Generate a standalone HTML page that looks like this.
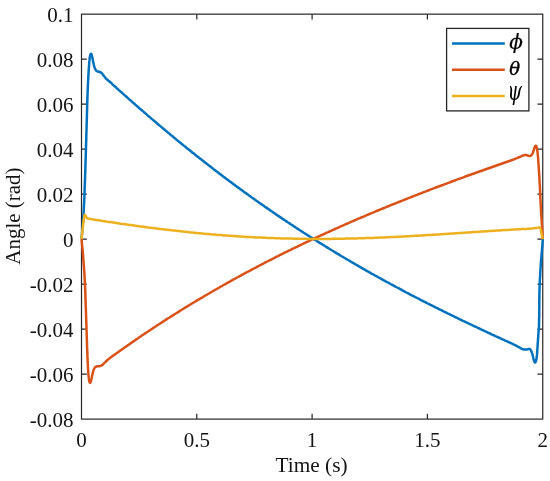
<!DOCTYPE html>
<html><head><meta charset="utf-8"><title>Angle vs Time</title>
<style>
html,body{margin:0;padding:0;background:#fff;}
svg{display:block;}
text{font-family:"Liberation Serif","DejaVu Serif",serif;font-size:21px;fill:#141414;}
.g{font-family:"DejaVu Serif","Liberation Serif",serif;font-style:italic;font-size:20px;fill:#000;}
</style></head><body>
<svg width="550" height="481" viewBox="0 0 550 481">
<rect width="550" height="481" fill="#fff"/>

<g stroke="#262626" stroke-width="1.2" fill="none">
<rect x="81.5" y="14.15" width="461.25" height="404.95000000000005"/>
<path d="M196.8,419.1 v-5.3 M196.8,14.15 v5.3"/>
<path d="M312.1,419.1 v-5.3 M312.1,14.15 v5.3"/>
<path d="M427.4,419.1 v-5.3 M427.4,14.15 v5.3"/>
<path d="M81.5,59.1 h5.3 M542.75,59.1 h-5.3"/>
<path d="M81.5,104.1 h5.3 M542.75,104.1 h-5.3"/>
<path d="M81.5,149.1 h5.3 M542.75,149.1 h-5.3"/>
<path d="M81.5,194.1 h5.3 M542.75,194.1 h-5.3"/>
<path d="M81.5,239.1 h5.3 M542.75,239.1 h-5.3"/>
<path d="M81.5,284.1 h5.3 M542.75,284.1 h-5.3"/>
<path d="M81.5,329.1 h5.3 M542.75,329.1 h-5.3"/>
<path d="M81.5,374.1 h5.3 M542.75,374.1 h-5.3"/>
</g>
<g fill="none" stroke-width="2.5" stroke-linejoin="round" stroke-linecap="butt">
<path stroke="#0072BD" d="M81.5,239.1 L81.6,237.6 L81.8,236.1 L81.9,234.6 L82.1,233.1 L82.2,231.6 L82.3,230.1 L82.5,228.6 L82.6,227.1 L82.7,225.6 L82.8,224.1 L82.9,222.6 L83.0,221.1 L83.1,219.6 L83.2,218.1 L83.3,216.6 L83.4,215.1 L83.5,213.6 L83.6,212.1 L83.7,210.6 L83.8,209.1 L83.9,207.6 L83.9,206.1 L84.0,204.6 L84.1,203.1 L84.2,201.6 L84.2,200.1 L84.3,198.6 L84.4,197.1 L84.4,195.6 L84.5,194.1 L84.5,192.5 L84.6,191.0 L84.6,189.5 L84.7,188.0 L84.7,186.5 L84.8,185.0 L84.9,183.5 L84.9,182.0 L85.0,180.5 L85.0,179.0 L85.1,177.5 L85.1,176.0 L85.2,174.5 L85.2,173.0 L85.3,171.5 L85.3,170.0 L85.4,168.5 L85.4,167.0 L85.4,165.5 L85.5,164.0 L85.5,162.5 L85.6,161.0 L85.6,159.5 L85.7,157.9 L85.7,156.4 L85.8,154.9 L85.8,153.4 L85.9,151.9 L85.9,150.4 L85.9,148.9 L86.0,147.4 L86.0,145.9 L86.1,144.4 L86.1,142.9 L86.2,141.4 L86.2,139.9 L86.3,138.4 L86.3,136.9 L86.3,135.4 L86.4,133.9 L86.4,132.4 L86.5,130.9 L86.5,129.4 L86.6,127.9 L86.6,126.4 L86.6,124.9 L86.7,123.3 L86.7,121.8 L86.8,120.3 L86.8,118.8 L86.9,117.3 L86.9,115.8 L86.9,114.3 L87.0,112.8 L87.0,111.3 L87.1,109.8 L87.1,108.3 L87.1,106.8 L87.2,105.3 L87.2,103.8 L87.3,102.3 L87.3,100.8 L87.4,99.3 L87.4,97.8 L87.5,96.3 L87.5,94.8 L87.6,93.3 L87.6,91.8 L87.7,90.3 L87.8,88.7 L87.8,87.2 L87.9,85.7 L88.0,84.2 L88.0,82.7 L88.1,81.2 L88.2,79.7 L88.3,78.2 L88.3,76.7 L88.4,75.2 L88.5,73.7 L88.6,72.2 L88.7,70.7 L88.8,69.2 L88.9,67.7 L89.0,66.2 L89.1,64.7 L89.2,63.2 L89.3,61.7 L89.5,60.2 L89.6,58.7 L89.8,57.2 L90.1,55.7 L90.5,54.2 L91.3,53.8 L91.8,55.4 L92.2,56.9 L92.5,58.3 L92.8,59.8 L93.0,61.3 L93.4,62.8 L93.7,64.3 L94.1,65.8 L94.5,67.2 L95.0,68.6 L95.7,70.0 L96.7,71.1 L98.1,71.5 L99.6,72.0 L101.0,72.5 L102.1,73.4 L102.9,74.7 L103.9,75.9 L104.8,77.1 L105.7,78.3 L106.8,79.3 L108.0,80.3 L109.1,81.2 L110.3,82.2 L111.4,83.2 L112.5,84.3 L113.6,85.3 L114.7,86.3 L115.9,87.3 L117.0,88.3 L118.1,89.3 L119.2,90.3 L120.3,91.3 L121.4,92.3 L122.6,93.3 L123.7,94.3 L124.8,95.3 L125.9,96.3 L127.1,97.3 L128.2,98.3 L129.3,99.3 L130.4,100.3 L131.6,101.3 L132.7,102.3 L133.8,103.3 L135.0,104.3 L136.1,105.3 L137.2,106.3 L138.4,107.3 L139.5,108.3 L140.6,109.3 L141.8,110.3 L142.9,111.2 L144.0,112.2 L145.2,113.2 L146.3,114.2 L147.4,115.2 L148.6,116.2 L149.7,117.1 L150.9,118.1 L152.0,119.1 L153.2,120.1 L154.3,121.1 L155.5,122.0 L156.6,123.0 L157.7,124.0 L158.9,124.9 L160.0,125.9 L161.2,126.9 L162.4,127.9 L163.5,128.8 L164.7,129.8 L165.8,130.8 L167.0,131.7 L168.1,132.7 L169.3,133.6 L170.4,134.6 L171.6,135.6 L172.8,136.5 L173.9,137.5 L175.1,138.4 L176.2,139.4 L177.4,140.4 L178.6,141.3 L179.7,142.3 L180.9,143.2 L182.1,144.2 L183.2,145.1 L184.4,146.1 L185.6,147.0 L186.7,148.0 L187.9,148.9 L189.1,149.8 L190.3,150.8 L191.4,151.7 L192.6,152.7 L193.8,153.6 L195.0,154.5 L196.1,155.5 L197.3,156.4 L198.5,157.3 L199.7,158.3 L200.9,159.2 L202.1,160.1 L203.2,161.1 L204.4,162.0 L205.6,162.9 L206.8,163.8 L208.0,164.8 L209.2,165.7 L210.4,166.6 L211.6,167.5 L212.8,168.4 L213.9,169.4 L215.1,170.3 L216.3,171.2 L217.5,172.1 L218.7,173.0 L219.9,173.9 L221.1,174.8 L222.3,175.8 L223.5,176.7 L224.7,177.6 L225.9,178.5 L227.1,179.4 L228.3,180.3 L229.5,181.2 L230.8,182.1 L232.0,183.0 L233.2,183.9 L234.4,184.8 L235.6,185.7 L236.8,186.6 L238.0,187.4 L239.2,188.3 L240.4,189.2 L241.7,190.1 L242.9,191.0 L244.1,191.9 L245.3,192.8 L246.5,193.6 L247.8,194.5 L249.0,195.4 L250.2,196.3 L251.4,197.2 L252.6,198.0 L253.9,198.9 L255.1,199.8 L256.3,200.7 L257.6,201.5 L258.8,202.4 L260.0,203.3 L261.2,204.1 L262.5,205.0 L263.7,205.8 L264.9,206.7 L266.2,207.6 L267.4,208.4 L268.7,209.3 L269.9,210.1 L271.1,211.0 L272.4,211.8 L273.6,212.7 L274.9,213.5 L276.1,214.4 L277.3,215.2 L278.6,216.1 L279.8,216.9 L281.1,217.8 L282.3,218.6 L283.6,219.4 L284.8,220.3 L286.1,221.1 L287.3,222.0 L288.6,222.8 L289.8,223.6 L291.1,224.5 L292.4,225.3 L293.6,226.1 L294.9,226.9 L296.1,227.8 L297.4,228.6 L298.6,229.4 L299.9,230.2 L301.2,231.0 L302.4,231.9 L303.7,232.7 L305.0,233.5 L306.2,234.3 L307.5,235.1 L308.8,235.9 L310.0,236.7 L311.3,237.5 L312.6,238.3 L313.9,239.2 L315.1,240.0 L316.4,240.8 L317.7,241.6 L319.0,242.4 L320.2,243.2 L321.5,243.9 L322.8,244.7 L324.1,245.5 L325.3,246.3 L326.6,247.1 L327.9,247.9 L329.2,248.7 L330.5,249.5 L331.8,250.3 L333.1,251.0 L334.3,251.8 L335.6,252.6 L336.9,253.4 L338.2,254.1 L339.5,254.9 L340.8,255.7 L342.1,256.5 L343.4,257.2 L344.7,258.0 L346.0,258.8 L347.3,259.5 L348.6,260.3 L349.9,261.1 L351.2,261.8 L352.5,262.6 L353.8,263.3 L355.1,264.1 L356.4,264.8 L357.7,265.6 L359.0,266.4 L360.3,267.1 L361.6,267.9 L362.9,268.6 L364.2,269.3 L365.5,270.1 L366.8,270.8 L368.1,271.6 L369.4,272.3 L370.7,273.1 L372.0,273.8 L373.4,274.5 L374.7,275.3 L376.0,276.0 L377.3,276.7 L378.6,277.5 L379.9,278.2 L381.3,278.9 L382.6,279.6 L383.9,280.4 L385.2,281.1 L386.5,281.8 L387.9,282.5 L389.2,283.2 L390.5,284.0 L391.8,284.7 L393.2,285.4 L394.5,286.1 L395.8,286.8 L397.1,287.5 L398.5,288.2 L399.8,288.9 L401.1,289.6 L402.4,290.4 L403.8,291.1 L405.1,291.8 L406.4,292.5 L407.8,293.2 L409.1,293.9 L410.4,294.6 L411.8,295.3 L413.1,295.9 L414.4,296.6 L415.8,297.3 L417.1,298.0 L418.5,298.7 L419.8,299.4 L421.1,300.1 L422.5,300.8 L423.8,301.5 L425.2,302.1 L426.5,302.8 L427.8,303.5 L429.2,304.2 L430.5,304.9 L431.9,305.5 L433.2,306.2 L434.6,306.9 L435.9,307.6 L437.3,308.2 L438.6,308.9 L440.0,309.6 L441.3,310.2 L442.6,310.9 L444.0,311.6 L445.3,312.2 L446.7,312.9 L448.1,313.6 L449.4,314.2 L450.8,314.9 L452.1,315.5 L453.5,316.2 L454.8,316.9 L456.2,317.5 L457.5,318.2 L458.9,318.8 L460.2,319.5 L461.6,320.1 L462.9,320.8 L464.3,321.4 L465.7,322.1 L467.0,322.7 L468.4,323.4 L469.7,324.0 L471.1,324.7 L472.5,325.3 L473.8,326.0 L475.2,326.6 L476.5,327.2 L477.9,327.9 L479.3,328.5 L480.6,329.2 L482.0,329.8 L483.4,330.4 L484.7,331.1 L486.1,331.7 L487.4,332.4 L488.8,333.0 L490.2,333.6 L491.5,334.3 L492.9,334.9 L494.3,335.5 L495.6,336.2 L497.0,336.8 L498.4,337.4 L499.7,338.0 L501.1,338.7 L502.5,339.3 L503.8,339.9 L505.2,340.6 L506.6,341.2 L508.0,341.8 L509.3,342.4 L510.7,343.0 L512.1,343.7 L513.4,344.3 L514.8,345.0 L516.1,345.7 L517.4,346.4 L518.8,347.1 L520.1,347.8 L521.4,348.6 L522.7,349.3 L524.2,349.5 L525.7,349.6 L527.2,349.4 L528.7,348.9 L529.9,349.0 L530.9,350.3 L531.6,351.9 L532.1,353.2 L532.5,354.7 L532.9,356.2 L533.2,357.6 L533.6,359.1 L534.1,360.8 L534.7,362.4 L535.3,362.5 L535.9,361.0 L536.4,359.3 L536.6,357.8 L536.8,356.4 L537.0,354.9 L537.1,353.4 L537.2,351.8 L537.3,350.3 L537.4,348.8 L537.5,347.3 L537.6,345.8 L537.7,344.3 L537.8,342.8 L537.9,341.3 L538.0,339.8 L538.1,338.3 L538.2,336.8 L538.3,335.3 L538.4,333.8 L538.5,332.3 L538.6,330.8 L538.8,329.3 L538.9,327.8 L539.0,326.3 L539.0,324.8 L539.0,323.3 L539.1,321.8 L539.1,320.3 L539.1,318.8 L539.2,317.3 L539.2,315.8 L539.2,314.2 L539.2,312.7 L539.2,311.2 L539.2,309.7 L539.3,308.2 L539.3,306.7 L539.3,305.2 L539.3,303.7 L539.3,302.2 L539.3,300.7 L539.3,299.2 L539.4,297.7 L539.4,296.2 L539.4,294.7 L539.4,293.2 L539.5,291.7 L539.5,290.2 L539.5,288.7 L539.6,287.2 L539.6,285.7 L539.7,284.1 L539.8,282.6 L539.8,281.1 L539.9,279.6 L540.0,278.1 L540.1,276.6 L540.2,275.1 L540.2,273.6 L540.3,272.1 L540.4,270.6 L540.5,269.1 L540.6,267.6 L540.7,266.1 L540.8,264.6 L540.9,263.1 L541.0,261.6 L541.1,260.1 L541.2,258.6 L541.4,257.1 L541.5,255.6 L541.6,254.1 L541.8,252.6 L541.9,251.1 L542.0,249.6 L542.1,248.1 L542.3,246.6 L542.4,245.1 L542.5,243.6 L542.6,242.1 L542.7,240.6 L542.8,239.1"/>
<path stroke="#D95319" d="M81.5,239.1 L81.7,240.6 L81.8,242.1 L82.0,243.6 L82.1,245.1 L82.3,246.6 L82.4,248.1 L82.6,249.6 L82.7,251.1 L82.8,252.6 L83.0,254.1 L83.1,255.6 L83.2,257.1 L83.3,258.6 L83.4,260.1 L83.5,261.6 L83.6,263.1 L83.8,264.6 L83.9,266.1 L84.0,267.6 L84.1,269.1 L84.2,270.6 L84.3,272.1 L84.4,273.6 L84.5,275.1 L84.5,276.6 L84.6,278.1 L84.7,279.6 L84.8,281.1 L84.9,282.6 L85.0,284.1 L85.0,285.6 L85.1,287.1 L85.2,288.6 L85.2,290.1 L85.3,291.6 L85.3,293.1 L85.4,294.6 L85.4,296.1 L85.5,297.6 L85.5,299.1 L85.6,300.6 L85.6,302.1 L85.7,303.6 L85.7,305.1 L85.8,306.6 L85.8,308.1 L85.9,309.6 L85.9,311.1 L86.0,312.6 L86.0,314.1 L86.1,315.6 L86.1,317.1 L86.2,318.6 L86.2,320.1 L86.3,321.6 L86.3,323.1 L86.4,324.6 L86.4,326.1 L86.5,327.6 L86.5,329.1 L86.6,330.6 L86.6,332.1 L86.7,333.6 L86.7,335.1 L86.8,336.6 L86.8,338.1 L86.9,339.6 L86.9,341.1 L87.0,342.6 L87.0,344.2 L87.0,345.7 L87.1,347.2 L87.1,348.7 L87.2,350.2 L87.3,351.7 L87.3,353.2 L87.4,354.7 L87.4,356.2 L87.5,357.7 L87.6,359.2 L87.6,360.7 L87.7,362.2 L87.8,363.7 L87.9,365.2 L87.9,366.7 L88.0,368.2 L88.1,369.7 L88.2,371.2 L88.3,372.7 L88.4,374.2 L88.6,375.7 L88.7,377.2 L88.9,378.7 L89.0,380.2 L89.3,381.6 L90.0,383.0 L90.7,381.8 L91.2,380.3 L91.6,378.8 L91.8,377.3 L92.1,375.9 L92.4,374.4 L92.8,372.9 L93.2,371.4 L93.6,370.0 L94.2,368.6 L95.0,367.3 L96.2,366.6 L97.7,366.3 L99.3,366.2 L100.7,365.9 L102.0,365.2 L103.2,364.2 L104.2,363.1 L105.3,362.1 L106.4,361.0 L107.5,360.0 L108.7,359.1 L109.8,358.1 L111.0,357.2 L112.2,356.3 L113.5,355.4 L114.7,354.6 L115.9,353.7 L117.2,352.8 L118.4,352.0 L119.6,351.1 L120.8,350.2 L122.1,349.3 L123.3,348.5 L124.5,347.6 L125.7,346.7 L127.0,345.9 L128.2,345.0 L129.4,344.2 L130.7,343.3 L131.9,342.4 L133.1,341.6 L134.4,340.7 L135.6,339.9 L136.9,339.0 L138.1,338.2 L139.3,337.3 L140.6,336.5 L141.8,335.6 L143.1,334.8 L144.3,334.0 L145.6,333.1 L146.8,332.3 L148.1,331.5 L149.3,330.6 L150.6,329.8 L151.8,329.0 L153.1,328.1 L154.3,327.3 L155.6,326.5 L156.8,325.6 L158.1,324.8 L159.4,324.0 L160.6,323.2 L161.9,322.4 L163.1,321.6 L164.4,320.7 L165.7,319.9 L166.9,319.1 L168.2,318.3 L169.5,317.5 L170.7,316.7 L172.0,315.9 L173.3,315.1 L174.5,314.3 L175.8,313.5 L177.1,312.7 L178.4,311.9 L179.6,311.1 L180.9,310.3 L182.2,309.5 L183.5,308.7 L184.8,307.9 L186.0,307.1 L187.3,306.4 L188.6,305.6 L189.9,304.8 L191.2,304.0 L192.5,303.2 L193.7,302.5 L195.0,301.7 L196.3,300.9 L197.6,300.1 L198.9,299.4 L200.2,298.6 L201.5,297.8 L202.8,297.1 L204.1,296.3 L205.4,295.5 L206.7,294.8 L208.0,294.0 L209.3,293.3 L210.6,292.5 L211.9,291.8 L213.2,291.0 L214.5,290.2 L215.8,289.5 L217.1,288.8 L218.4,288.0 L219.7,287.3 L221.0,286.5 L222.3,285.8 L223.6,285.0 L224.9,284.3 L226.2,283.6 L227.5,282.8 L228.8,282.1 L230.2,281.4 L231.5,280.6 L232.8,279.9 L234.1,279.2 L235.4,278.5 L236.7,277.7 L238.1,277.0 L239.4,276.3 L240.7,275.6 L242.0,274.8 L243.3,274.1 L244.7,273.4 L246.0,272.7 L247.3,272.0 L248.6,271.3 L250.0,270.6 L251.3,269.9 L252.6,269.2 L253.9,268.5 L255.3,267.8 L256.6,267.1 L257.9,266.4 L259.3,265.7 L260.6,265.0 L261.9,264.3 L263.3,263.6 L264.6,262.9 L265.9,262.2 L267.3,261.5 L268.6,260.8 L270.0,260.1 L271.3,259.5 L272.6,258.8 L274.0,258.1 L275.3,257.4 L276.7,256.7 L278.0,256.1 L279.3,255.4 L280.7,254.7 L282.0,254.0 L283.4,253.4 L284.7,252.7 L286.1,252.0 L287.4,251.4 L288.8,250.7 L290.1,250.1 L291.5,249.4 L292.8,248.7 L294.2,248.1 L295.5,247.4 L296.9,246.8 L298.2,246.1 L299.6,245.5 L300.9,244.8 L302.3,244.2 L303.6,243.5 L305.0,242.9 L306.4,242.2 L307.7,241.6 L309.1,240.9 L310.4,240.3 L311.8,239.7 L313.2,239.0 L314.5,238.4 L315.9,237.7 L317.2,237.1 L318.6,236.5 L320.0,235.8 L321.3,235.2 L322.7,234.6 L324.1,234.0 L325.4,233.3 L326.8,232.7 L328.2,232.1 L329.5,231.5 L330.9,230.9 L332.3,230.2 L333.7,229.6 L335.0,229.0 L336.4,228.4 L337.8,227.8 L339.1,227.2 L340.5,226.5 L341.9,225.9 L343.3,225.3 L344.6,224.7 L346.0,224.1 L347.4,223.5 L348.8,222.9 L350.1,222.3 L351.5,221.7 L352.9,221.1 L354.3,220.5 L355.7,219.9 L357.0,219.3 L358.4,218.7 L359.8,218.1 L361.2,217.5 L362.6,217.0 L364.0,216.4 L365.3,215.8 L366.7,215.2 L368.1,214.6 L369.5,214.0 L370.9,213.4 L372.3,212.9 L373.7,212.3 L375.0,211.7 L376.4,211.1 L377.8,210.5 L379.2,210.0 L380.6,209.4 L382.0,208.8 L383.4,208.3 L384.8,207.7 L386.2,207.1 L387.5,206.5 L388.9,206.0 L390.3,205.4 L391.7,204.8 L393.1,204.3 L394.5,203.7 L395.9,203.2 L397.3,202.6 L398.7,202.0 L400.1,201.5 L401.5,200.9 L402.9,200.4 L404.3,199.8 L405.7,199.2 L407.1,198.7 L408.5,198.1 L409.9,197.6 L411.3,197.0 L412.7,196.5 L414.1,195.9 L415.5,195.4 L416.9,194.9 L418.3,194.3 L419.7,193.8 L421.1,193.2 L422.5,192.7 L423.9,192.1 L425.3,191.6 L426.7,191.1 L428.1,190.5 L429.5,190.0 L430.9,189.4 L432.3,188.9 L433.7,188.4 L435.1,187.8 L436.5,187.3 L437.9,186.8 L439.3,186.2 L440.7,185.7 L442.1,185.2 L443.5,184.7 L445.0,184.1 L446.4,183.6 L447.8,183.1 L449.2,182.6 L450.6,182.0 L452.0,181.5 L453.4,181.0 L454.8,180.5 L456.2,179.9 L457.6,179.4 L459.1,178.9 L460.5,178.4 L461.9,177.9 L463.3,177.4 L464.7,176.8 L466.1,176.3 L467.5,175.8 L468.9,175.3 L470.3,174.8 L471.8,174.3 L473.2,173.8 L474.6,173.3 L476.0,172.8 L477.4,172.2 L478.8,171.7 L480.2,171.2 L481.7,170.7 L483.1,170.2 L484.5,169.7 L485.9,169.2 L487.3,168.7 L488.7,168.2 L490.2,167.7 L491.6,167.2 L493.0,166.7 L494.4,166.2 L495.8,165.7 L497.2,165.2 L498.7,164.7 L500.1,164.2 L501.5,163.7 L502.9,163.2 L504.3,162.7 L505.8,162.2 L507.2,161.7 L508.6,161.2 L510.0,160.8 L511.4,160.3 L512.9,159.7 L514.3,159.2 L515.6,158.6 L517.0,158.1 L518.4,157.5 L519.8,156.9 L521.2,156.3 L522.6,155.7 L524.0,155.1 L525.4,155.1 L526.9,155.3 L528.4,155.7 L529.9,156.0 L531.2,155.4 L532.2,154.2 L532.8,152.9 L533.3,151.5 L533.8,150.0 L534.3,148.5 L534.7,147.1 L535.5,145.7 L536.3,145.9 L536.8,147.6 L537.1,149.1 L537.3,150.5 L537.5,152.0 L537.7,153.6 L537.8,155.1 L538.0,156.6 L538.1,158.1 L538.2,159.6 L538.3,161.1 L538.4,162.6 L538.5,164.1 L538.6,165.6 L538.7,167.1 L538.8,168.6 L538.9,170.1 L539.0,171.6 L539.1,173.1 L539.2,174.6 L539.3,176.1 L539.4,177.6 L539.4,179.1 L539.5,180.6 L539.6,182.1 L539.7,183.6 L539.8,185.1 L539.9,186.6 L539.9,188.1 L540.0,189.6 L540.1,191.1 L540.1,192.6 L540.2,194.1 L540.3,195.6 L540.3,197.1 L540.4,198.6 L540.5,200.1 L540.6,201.6 L540.6,203.1 L540.7,204.6 L540.8,206.1 L540.9,207.6 L540.9,209.1 L541.0,210.6 L541.1,212.1 L541.2,213.6 L541.3,215.1 L541.4,216.6 L541.5,218.1 L541.6,219.6 L541.7,221.1 L541.8,222.6 L541.9,224.1 L542.0,225.6 L542.1,227.1 L542.2,228.6 L542.3,230.1 L542.4,231.6 L542.5,233.1 L542.6,234.6 L542.6,236.1 L542.7,237.6 L542.8,239.1"/>
<path stroke="#EDB120" d="M81.5,239.1 L81.7,237.6 L81.8,236.1 L82.0,234.6 L82.2,233.1 L82.4,231.6 L82.5,230.1 L82.7,228.6 L82.9,227.1 L83.1,225.6 L83.2,224.1 L83.4,222.6 L83.5,221.1 L83.7,219.6 L84.0,218.2 L84.3,216.4 L84.7,214.8 L85.3,215.1 L86.1,216.7 L86.8,218.0 L88.1,218.5 L89.6,218.9 L91.1,219.1 L92.6,219.4 L94.1,219.6 L95.6,219.9 L97.1,220.1 L98.5,220.3 L100.0,220.5 L101.5,220.8 L103.0,221.0 L104.5,221.2 L106.0,221.4 L107.5,221.7 L109.0,221.9 L110.5,222.1 L111.9,222.3 L113.4,222.6 L114.9,222.8 L116.4,223.0 L117.9,223.2 L119.4,223.4 L120.9,223.7 L122.4,223.9 L123.9,224.1 L125.4,224.3 L126.8,224.5 L128.3,224.7 L129.8,224.9 L131.3,225.1 L132.8,225.3 L134.3,225.6 L135.8,225.8 L137.3,226.0 L138.8,226.2 L140.3,226.4 L141.8,226.6 L143.2,226.8 L144.7,227.0 L146.2,227.2 L147.7,227.4 L149.2,227.6 L150.7,227.7 L152.2,227.9 L153.7,228.1 L155.2,228.3 L156.7,228.5 L158.2,228.7 L159.7,228.9 L161.2,229.1 L162.7,229.2 L164.2,229.4 L165.7,229.6 L167.2,229.8 L168.6,230.0 L170.1,230.1 L171.6,230.3 L173.1,230.5 L174.6,230.6 L176.1,230.8 L177.6,231.0 L179.1,231.1 L180.6,231.3 L182.1,231.5 L183.6,231.6 L185.1,231.8 L186.6,232.0 L188.1,232.1 L189.6,232.3 L191.1,232.4 L192.6,232.6 L194.1,232.7 L195.6,232.9 L197.1,233.0 L198.6,233.2 L200.1,233.3 L201.6,233.4 L203.1,233.6 L204.6,233.7 L206.1,233.9 L207.6,234.0 L209.1,234.1 L210.6,234.3 L212.1,234.4 L213.6,234.5 L215.1,234.6 L216.6,234.8 L218.1,234.9 L219.6,235.0 L221.1,235.1 L222.6,235.2 L224.1,235.4 L225.6,235.5 L227.1,235.6 L228.6,235.7 L230.1,235.8 L231.6,235.9 L233.1,236.0 L234.6,236.1 L236.1,236.2 L237.6,236.3 L239.1,236.4 L240.6,236.5 L242.1,236.6 L243.6,236.7 L245.1,236.8 L246.6,236.9 L248.1,237.0 L249.6,237.0 L251.1,237.1 L252.6,237.2 L254.1,237.3 L255.7,237.4 L257.2,237.4 L258.7,237.5 L260.2,237.6 L261.7,237.6 L263.2,237.7 L264.7,237.8 L266.2,237.8 L267.7,237.9 L269.2,238.0 L270.7,238.0 L272.2,238.1 L273.7,238.1 L275.2,238.2 L276.7,238.2 L278.2,238.3 L279.7,238.3 L281.2,238.4 L282.7,238.4 L284.2,238.5 L285.7,238.5 L287.2,238.5 L288.8,238.6 L290.3,238.6 L291.8,238.6 L293.3,238.7 L294.8,238.7 L296.3,238.7 L297.8,238.7 L299.3,238.8 L300.8,238.8 L302.3,238.8 L303.8,238.8 L305.3,238.8 L306.8,238.9 L308.3,238.9 L309.8,238.9 L311.3,238.9 L312.8,238.9 L314.4,238.9 L315.9,238.9 L317.4,238.9 L318.9,238.9 L320.4,238.9 L321.9,238.9 L323.4,238.9 L324.9,238.9 L326.4,238.9 L327.9,238.9 L329.4,238.9 L330.9,238.9 L332.4,238.8 L333.9,238.8 L335.4,238.8 L336.9,238.8 L338.4,238.8 L339.9,238.7 L341.5,238.7 L343.0,238.7 L344.5,238.7 L346.0,238.6 L347.5,238.6 L349.0,238.6 L350.5,238.5 L352.0,238.5 L353.5,238.5 L355.0,238.4 L356.5,238.4 L358.0,238.3 L359.5,238.3 L361.0,238.3 L362.5,238.2 L364.0,238.2 L365.5,238.1 L367.0,238.1 L368.5,238.0 L370.1,238.0 L371.6,237.9 L373.1,237.9 L374.6,237.8 L376.1,237.7 L377.6,237.7 L379.1,237.6 L380.6,237.6 L382.1,237.5 L383.6,237.4 L385.1,237.4 L386.6,237.3 L388.1,237.2 L389.6,237.2 L391.1,237.1 L392.6,237.0 L394.1,237.0 L395.6,236.9 L397.1,236.8 L398.6,236.7 L400.1,236.7 L401.6,236.6 L403.1,236.5 L404.6,236.4 L406.2,236.3 L407.7,236.3 L409.2,236.2 L410.7,236.1 L412.2,236.0 L413.7,235.9 L415.2,235.8 L416.7,235.8 L418.2,235.7 L419.7,235.6 L421.2,235.5 L422.7,235.4 L424.2,235.3 L425.7,235.2 L427.2,235.1 L428.7,235.0 L430.2,234.9 L431.7,234.9 L433.2,234.8 L434.7,234.7 L436.2,234.6 L437.7,234.5 L439.2,234.4 L440.7,234.3 L442.2,234.2 L443.7,234.1 L445.2,234.0 L446.7,233.9 L448.2,233.8 L449.7,233.7 L451.2,233.6 L452.7,233.5 L454.2,233.4 L455.7,233.3 L457.3,233.2 L458.8,233.1 L460.3,233.0 L461.8,232.9 L463.3,232.8 L464.8,232.7 L466.3,232.6 L467.8,232.5 L469.3,232.4 L470.8,232.3 L472.3,232.2 L473.8,232.1 L475.3,232.0 L476.8,231.9 L478.3,231.8 L479.8,231.7 L481.3,231.6 L482.8,231.5 L484.3,231.4 L485.8,231.3 L487.3,231.2 L488.8,231.1 L490.3,231.0 L491.8,230.9 L493.3,230.8 L494.8,230.7 L496.3,230.6 L497.8,230.5 L499.3,230.4 L500.8,230.3 L502.3,230.2 L503.8,230.1 L505.3,230.0 L506.8,230.0 L508.3,229.9 L509.8,229.8 L511.3,229.7 L512.8,229.6 L514.4,229.5 L515.9,229.4 L517.4,229.3 L518.9,229.3 L520.4,229.2 L521.9,229.1 L523.4,229.0 L524.9,228.9 L526.4,228.9 L527.9,228.8 L529.4,228.7 L530.9,228.6 L532.4,228.5 L533.9,228.3 L535.4,228.1 L536.9,227.9 L538.3,227.6 L539.7,227.4 L540.5,228.8 L540.9,230.2 L541.2,231.7 L541.5,233.2 L541.8,234.7 L542.1,236.2 L542.4,237.6 L542.8,239.1"/>
</g>
<text x="81.5" y="446.5" text-anchor="middle">0</text>
<text x="196.8" y="446.5" text-anchor="middle">0.5</text>
<text x="312.1" y="446.5" text-anchor="middle">1</text>
<text x="427.4" y="446.5" text-anchor="middle">1.5</text>
<text x="542.7" y="446.5" text-anchor="middle">2</text>
<text x="73.5" y="21.6" text-anchor="end">0.1</text>
<text x="73.5" y="66.5" text-anchor="end">0.08</text>
<text x="73.5" y="111.5" text-anchor="end">0.06</text>
<text x="73.5" y="156.5" text-anchor="end">0.04</text>
<text x="73.5" y="201.5" text-anchor="end">0.02</text>
<text x="73.5" y="246.5" text-anchor="end">0</text>
<text x="73.5" y="291.5" text-anchor="end">-0.02</text>
<text x="73.5" y="336.5" text-anchor="end">-0.04</text>
<text x="73.5" y="381.5" text-anchor="end">-0.06</text>
<text x="73.5" y="426.5" text-anchor="end">-0.08</text>
<text x="311.6" y="471.7" text-anchor="middle" style="font-size:21.3px">Time (s)</text>
<text transform="translate(20.2,216.1) rotate(-90)" text-anchor="middle">Angle (rad)</text>
<rect x="446.6" y="28.4" width="82.3" height="82.5" fill="#fff" stroke="#262626" stroke-width="1.3"/>
<path d="M452,43.6 H504.8" stroke="#0072BD" stroke-width="2.5" fill="none"/>
<text class="g" style="font-size:20px;stroke:#000;stroke-width:0.2px" x="509.2" y="49.0">ϕ</text>
<path d="M452,69.75 H504.8" stroke="#D95319" stroke-width="2.5" fill="none"/>
<text class="g" style="font-size:18px;stroke:#000;stroke-width:0.45px" x="509.2" y="75.2">θ</text>
<path d="M452,95.9 H504.8" stroke="#EDB120" stroke-width="2.5" fill="none"/>
<text class="g" style="font-size:20px" transform="translate(507.4,105.5) scale(0.92,1.31) translate(0,-4.2)" x="0" y="0">ψ</text>
</svg></body></html>
